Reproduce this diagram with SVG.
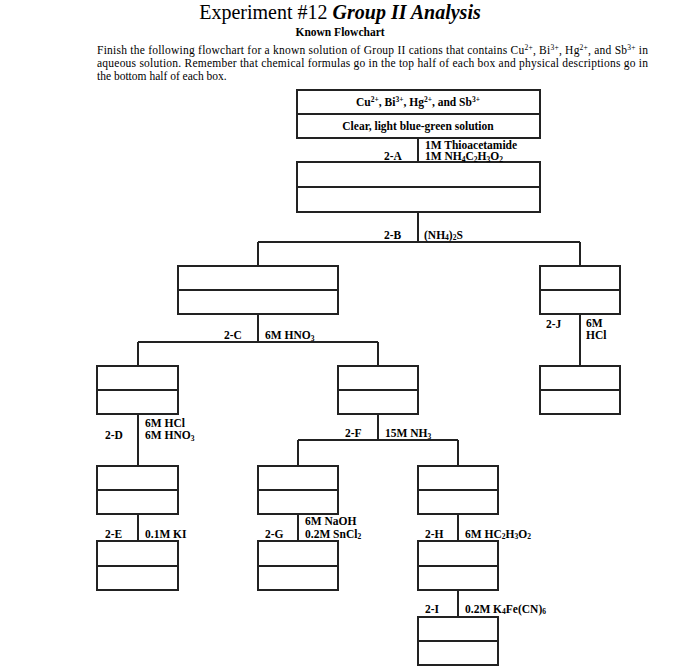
<svg xmlns="http://www.w3.org/2000/svg" width="681" height="670" viewBox="0 0 681 670">
<style>
text{font-family:"Liberation Serif","Times New Roman",serif;fill:#000}
.b{font-weight:bold;font-size:11.5px}
.p{font-size:11.5px}
.box{fill:#fff;stroke:#222;stroke-width:2}
.ln{fill:none;stroke:#222;stroke-width:2}
.s{font-size:7.5px}
</style>
<rect width="681" height="670" fill="#fff"/>
<text x="340" y="19" text-anchor="middle" font-size="20">Experiment #12  <tspan font-weight="bold" font-style="italic">Group II Analysis</tspan></text>
<text x="340" y="36" text-anchor="middle" class="b" font-size="11">Known Flowchart</text>
<text class="p" x="97" y="54" textLength="551" lengthAdjust="spacing">Finish the following flowchart for a known solution of Group II cations that contains Cu<tspan class="s" dy="-4">2+</tspan><tspan dy="4">, Bi</tspan><tspan class="s" dy="-4">3+</tspan><tspan dy="4">, Hg</tspan><tspan class="s" dy="-4">2+</tspan><tspan dy="4">, and Sb</tspan><tspan class="s" dy="-4">3+</tspan><tspan dy="4"> in</tspan></text>
<text class="p" x="97" y="67" textLength="551" lengthAdjust="spacing">aqueous solution.  Remember that chemical formulas go in the top half of each box and physical descriptions go in</text>
<text class="p" x="97" y="80">the bottom half of each box.</text>

<g id="connectors" class="ln">
<path d="M418 138V162M418 212V242M258 242H580M258 242V266M580 242V266"/>
<path d="M258 314V342M138 342H378M138 342V366M378 342V366M580 314V366"/>
<path d="M138 414V466M378 414V440M298 440H458M298 440V466M458 440V466"/>
<path d="M138 514V541M298 514V541M458 514V541M458 590V617"/>
</g>

<g id="node-start"><rect class="box" x="297" y="90" width="243" height="48"/><path class="ln" d="M297 114H540"/>
<text class="b" x="418" y="106" text-anchor="middle">Cu<tspan class="s" dy="-4">2+</tspan><tspan dy="4">, Bi</tspan><tspan class="s" dy="-4">3+</tspan><tspan dy="4">, Hg</tspan><tspan class="s" dy="-4">2+</tspan><tspan dy="4">, and Sb</tspan><tspan class="s" dy="-4">3+</tspan></text>
<text class="b" x="418" y="130" text-anchor="middle">Clear, light blue-green solution</text></g>
<g id="node-A"><rect class="box" x="297" y="162" width="243" height="50"/><path class="ln" d="M297 187H540"/></g>
<g id="node-C"><rect class="box" x="178" y="266" width="160" height="48"/><path class="ln" d="M178 290H338"/></g>
<g id="node-B"><rect class="box" x="540" y="266" width="80" height="48"/><path class="ln" d="M540 290H620"/></g>
<g id="node-J"><rect class="box" x="540" y="366" width="80" height="48"/><path class="ln" d="M540 390H620"/></g>
<g id="node-D"><rect class="box" x="97" y="366" width="81" height="48"/><path class="ln" d="M97 390H178"/></g>
<g id="node-F"><rect class="box" x="338" y="366" width="80" height="48"/><path class="ln" d="M338 390H418"/></g>
<g id="node-D2"><rect class="box" x="97" y="466" width="81" height="48"/><path class="ln" d="M97 490H178"/></g>
<g id="node-G"><rect class="box" x="258" y="466" width="80" height="48"/><path class="ln" d="M258 490H338"/></g>
<g id="node-H"><rect class="box" x="418" y="466" width="80" height="48"/><path class="ln" d="M418 490H498"/></g>
<g id="node-E"><rect class="box" x="97" y="541" width="81" height="49"/><path class="ln" d="M97 566H178"/></g>
<g id="node-G2"><rect class="box" x="258" y="541" width="80" height="49"/><path class="ln" d="M258 566H338"/></g>
<g id="node-H2"><rect class="box" x="418" y="541" width="80" height="49"/><path class="ln" d="M418 566H498"/></g>
<g id="node-I"><rect class="box" x="418" y="617" width="80" height="48"/><path class="ln" d="M418 641H498"/></g>

<g id="labels" class="b">
<text x="384" y="160">2-A</text>
<text x="425" y="149">1M Thioacetamide</text>
<text x="425" y="160">1M NH<tspan class="s" dy="2">4</tspan><tspan dy="-2">C</tspan><tspan class="s" dy="2">2</tspan><tspan dy="-2">H</tspan><tspan class="s" dy="2">3</tspan><tspan dy="-2">O</tspan><tspan class="s" dy="2">2</tspan></text>
<text x="384" y="239">2-B</text>
<text x="424" y="239">(NH<tspan class="s" dy="1">4</tspan><tspan dy="-1">)</tspan><tspan class="s" dy="1">2</tspan><tspan dy="-1">S</tspan></text>
<text x="224" y="339">2-C</text>
<text x="265" y="339">6M HNO<tspan class="s" dy="2">3</tspan></text>
<text x="546" y="328">2-J</text>
<text x="586" y="327">6M</text>
<text x="586" y="339">HCl</text>
<text x="145" y="427">6M HCl</text>
<text x="105" y="439">2-D</text>
<text x="145" y="439">6M HNO<tspan class="s" dy="2">3</tspan></text>
<text x="345" y="437">2-F</text>
<text x="385" y="437">15M NH<tspan class="s" dy="2">3</tspan></text>
<text x="105" y="538">2-E</text>
<text x="145" y="538">0.1M KI</text>
<text x="305" y="525">6M NaOH</text>
<text x="265" y="538">2-G</text>
<text x="305" y="538">0.2M SnCl<tspan class="s" dy="1">2</tspan></text>
<text x="425" y="538">2-H</text>
<text x="465" y="538">6M HC<tspan class="s" dy="1">2</tspan><tspan dy="-1">H</tspan><tspan class="s" dy="1">3</tspan><tspan dy="-1">O</tspan><tspan class="s" dy="1">2</tspan></text>
<text x="425" y="613">2-I</text>
<text x="465" y="613">0.2M K<tspan class="s" dy="1">4</tspan><tspan dy="-1">Fe(CN)</tspan><tspan class="s" dy="1">6</tspan></text>
</g>
</svg>
